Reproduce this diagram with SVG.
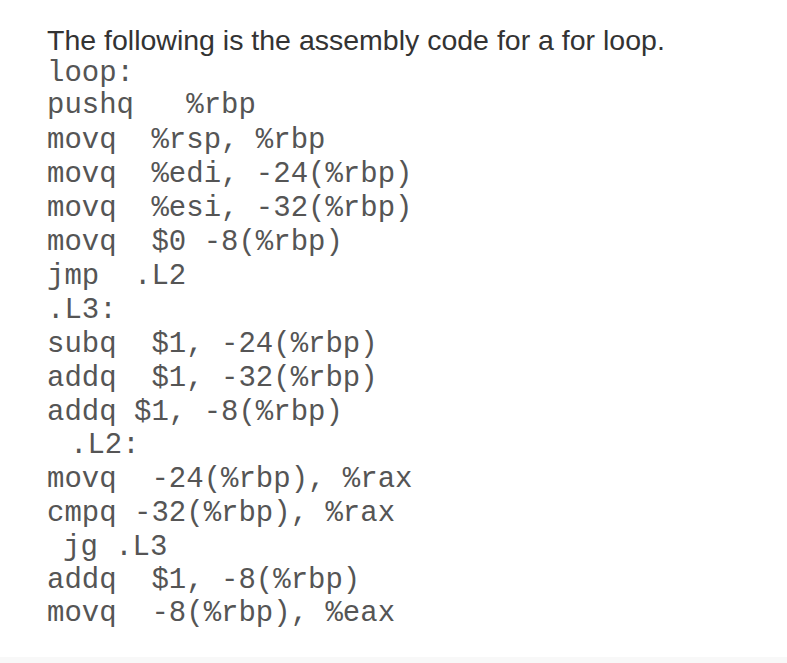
<svg xmlns="http://www.w3.org/2000/svg" width="787" height="663" viewBox="0 0 787 663">
<style>
.t{font-family:"Liberation Sans",Arial,sans-serif;font-size:28.5px;fill:#333}
.c{font-family:"Liberation Mono","Courier New",monospace;font-size:29px;fill:#555;white-space:pre}
</style>
<rect width="787" height="663" fill="#fff"/>
<rect y="657" width="787" height="6" fill="#f8f8f8"/>
<text class="t" x="47" y="50">The following is the assembly code for a for loop.</text>
<g xml:space="preserve">
<text class="c" x="47" y="81">loop:</text>
<text class="c" x="47" y="113">pushq   %rbp</text>
<text class="c" x="47" y="148">movq  %rsp, %rbp</text>
<text class="c" x="47" y="182">movq  %edi, -24(%rbp)</text>
<text class="c" x="47" y="216">movq  %esi, -32(%rbp)</text>
<text class="c" x="47" y="250">movq  $0 -8(%rbp)</text>
<text class="c" x="47" y="284">jmp  .L2</text>
<text class="c" x="47" y="318">.L3:</text>
<text class="c" x="47" y="352">subq  $1, -24(%rbp)</text>
<text class="c" x="47" y="386">addq  $1, -32(%rbp)</text>
<text class="c" x="47" y="420">addq $1, -8(%rbp)</text>
<text class="c" x="70" y="453">.L2:</text>
<text class="c" x="47" y="487">movq  -24(%rbp), %rax</text>
<text class="c" x="47" y="521">cmpq -32(%rbp), %rax</text>
<text class="c" x="63" y="555">jg .L3</text>
<text class="c" x="47" y="588">addq  $1, -8(%rbp)</text>
<text class="c" x="47" y="621">movq  -8(%rbp), %eax</text>
</g>
</svg>
